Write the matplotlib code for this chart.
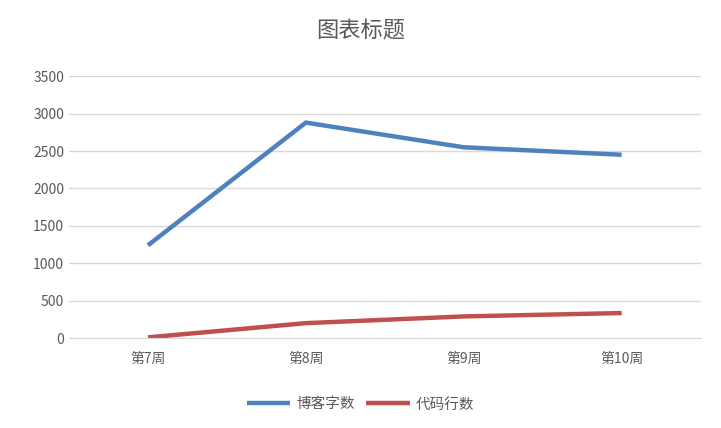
import matplotlib
matplotlib.use("Agg")
import matplotlib.pyplot as plt

plt.rcParams['font.family'] = ['Noto Sans CJK SC', 'DejaVu Sans']

weeks = ['第7周', '第8周', '第9周', '第10周']
blog_words = [1240, 2880, 2550, 2450]
code_lines = [10, 200, 290, 335]

fig = plt.figure(figsize=(7.21, 4.28), dpi=100)
ax = fig.add_axes([0.0957, 0.21, 0.876, 0.612])

x = range(len(weeks))
ax.plot(x, blog_words, color='#4F81BD', lw=3.2, label='博客字数', solid_capstyle='butt')
ax.plot(x, code_lines, color='#C0504D', lw=3.2, label='代码行数', solid_capstyle='butt')

ax.set_xlim(-0.5, 3.5)
ax.set_ylim(0, 3500)
ax.set_yticks(range(0, 3501, 500))
ax.set_xticks(list(x))
ax.set_xticklabels(weeks)
ax.grid(axis='y', color='#D9D9D9', lw=1)
ax.set_axisbelow(True)
for s in ['top', 'right', 'left']:
    ax.spines[s].set_visible(False)
ax.spines['bottom'].set_color('#D9D9D9')
ax.tick_params(length=0, colors='#595959', labelsize=10)
ax.tick_params(axis='x', pad=10)

fig.text(0.5, 0.93, '图表标题', ha='center', va='center', fontsize=16, color='#595959')
fig.legend(loc='center', bbox_to_anchor=(0.5, 0.055), ncol=2, frameon=False,
           fontsize=10.5, labelcolor='#595959', handlelength=3, columnspacing=0.8,
           handletextpad=0.4)

fig.savefig('out.png')
